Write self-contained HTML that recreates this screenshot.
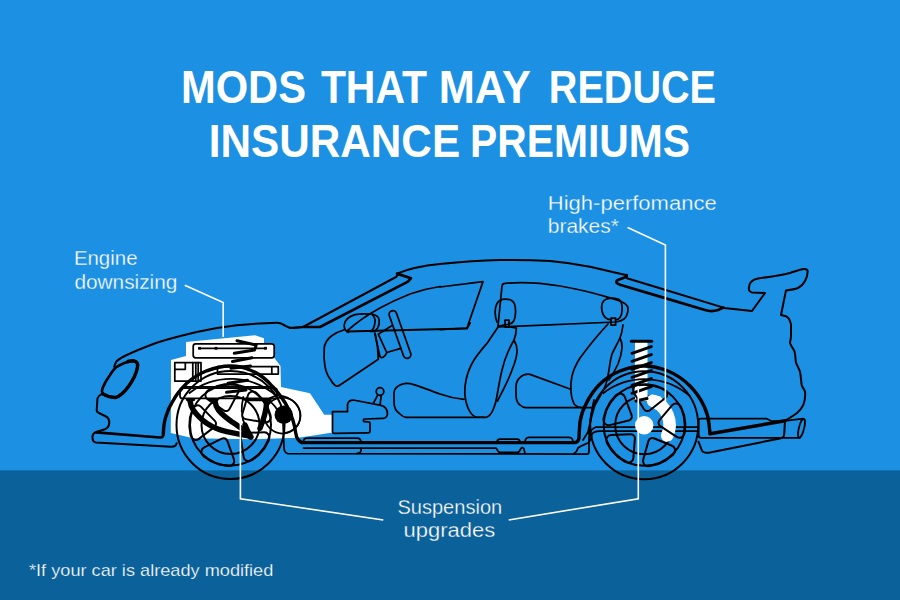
<!DOCTYPE html>
<html lang="en">
<head>
<meta charset="utf-8">
<title>Mods that may reduce insurance premiums</title>
<style>
html,body{margin:0;padding:0;width:900px;height:600px;overflow:hidden;background:#1c90e3;}
svg{display:block;position:absolute;left:0;top:0;}
text{font-family:"Liberation Sans",sans-serif;fill:#fff;}
.title{font-weight:bold;font-size:46.5px;}
.lbl{font-size:20px;stroke:#1c90e3;stroke-width:.28px;}
.dk{stroke:#0b6199;}
.note{font-size:17px;stroke:#0b6199;stroke-width:.25px;}
.call{fill:none;stroke:#fff;stroke-width:1.6;stroke-linejoin:miter;}
.k{fill:none;stroke:#000;stroke-width:2;stroke-linecap:round;stroke-linejoin:round;}
.t{stroke-width:1.75;}
.m{stroke-width:2.7;}
.h{stroke-width:3.4;}
.s{stroke-width:3;}
.x{stroke-width:5.4;}
</style>
</head>
<body>
<svg width="900" height="600" viewBox="0 0 900 600">
<rect x="0" y="0" width="900" height="600" fill="#1c90e3"/>
<rect x="0" y="470.4" width="900" height="130" fill="#0b6199"/>

<!-- TITLE -->
<text class="title" x="180.9" y="102.7" textLength="125.1" lengthAdjust="spacingAndGlyphs">MODS</text>
<text class="title" x="320.9" y="102.7" textLength="106.0" lengthAdjust="spacingAndGlyphs">THAT</text>
<text class="title" x="438.7" y="102.7" textLength="92.3" lengthAdjust="spacingAndGlyphs">MAY</text>
<text class="title" x="548.8" y="102.7" textLength="167.2" lengthAdjust="spacingAndGlyphs">REDUCE</text>
<text class="title" x="208.8" y="156.7" textLength="251.3" lengthAdjust="spacingAndGlyphs">INSURANCE</text>
<text class="title" x="470.0" y="156.7" textLength="220.1" lengthAdjust="spacingAndGlyphs">PREMIUMS</text>

<!-- LABELS -->
<text class="lbl" x="73.9" y="265" textLength="63.6" lengthAdjust="spacingAndGlyphs">Engine</text>
<text class="lbl" x="74.4" y="288.6" textLength="103.0" lengthAdjust="spacingAndGlyphs">downsizing</text>
<text class="lbl" x="547.8" y="209.8" textLength="168.9" lengthAdjust="spacingAndGlyphs">High-perfomance</text>
<text class="lbl" x="547.8" y="232.6" textLength="71.0" lengthAdjust="spacingAndGlyphs">brakes*</text>
<text class="lbl dk" x="397.4" y="513.6" textLength="104.8" lengthAdjust="spacingAndGlyphs">Suspension</text>
<text class="lbl dk" x="403.6" y="537" textLength="91.6" lengthAdjust="spacingAndGlyphs">upgrades</text>
<text class="note" x="29.0" y="576" textLength="244.3" lengthAdjust="spacingAndGlyphs">*If your car is already modified</text>

<!-- CAR-START -->
<path fill="#fff" d="M186,342 L255,335.3 L264,338.3 L264,343.8 L274.2,343.8 L274.2,357.8 L280.5,366 L281,387 L310,393.3 L324.2,414.7 L332.5,414.7 L332.5,432.5 L315,435.3 L298,437.8 L251.7,439.2 L193.3,438.3 L170.8,433 L171,360 L186,356 Z"/>
<path class="k t" d="M283,422 L284,448 C284.3,451.5 285.5,453.3 288,453.6 L587,454 C588.5,454 589,453 589,451.5 L589,437 C589.3,432 592,428.5 596,427 L698,427"/>
<path class="k t" d="M574,453.6 C576.5,452 577.5,450 578,448 C581,445.5 585,444.5 588,443 C590.5,441 591.5,438 592,434 C593.5,431.5 596,431 600,431 L698,431"/>
<circle class="k" cx="644.2" cy="425.3" r="29"/>
<rect x="635" y="342" width="12.5" height="59" fill="#fff"/>
<path d="M653.1,400.9 A25.5,25.5 0 0 1 667.2,435.5" fill="none" stroke="#fff" stroke-width="12.5" stroke-linecap="round"/>
<path d="M647,399 L652,396 L660,398 L656,408 Z" fill="#fff" stroke="#fff" stroke-width="3" stroke-linejoin="round"/>
<circle cx="644.2" cy="425.3" r="9.2" fill="#fff"/>
<circle class="k" cx="230.5" cy="425" r="54"/>
<circle class="k" cx="230.5" cy="425" r="40.5"/>
<circle class="k" cx="230.5" cy="425" r="29"/>
<path class="k" d="M245.54,419.13 A4.00,4.00 0 0 1 242.37,414.06 L247.92,395.18 A5.00,5.00 0 0 1 255.51,392.44 L256.98,393.44 L262.97,399.63 L267.53,406.94 L270.48,415.03 L270.72,416.79 A5.00,5.00 0 0 1 264.94,422.42 Z"/>
<path class="k" d="M240.73,437.49 A4.00,4.00 0 0 1 244.57,432.91 L264.24,432.35 A5.00,5.00 0 0 1 269.19,438.72 L268.70,440.43 L264.66,448.04 L259.12,454.64 L252.33,459.94 L250.73,460.72 A5.00,5.00 0 0 1 243.60,456.95 Z"/>
<path class="k" d="M221.78,438.59 A4.00,4.00 0 0 1 227.33,440.83 L233.94,459.36 A5.00,5.00 0 0 1 229.40,466.04 L227.63,466.10 L219.14,464.60 L211.16,461.38 L204.02,456.56 L202.78,455.28 A5.00,5.00 0 0 1 204.16,447.33 Z"/>
<path class="k" d="M214.88,420.91 A4.00,4.00 0 0 1 214.47,426.88 L198.88,438.89 A5.00,5.00 0 0 1 191.13,436.64 L190.52,434.97 L189.33,426.44 L189.93,417.85 L192.30,409.57 L193.13,408.00 A5.00,5.00 0 0 1 201.12,406.85 Z"/>
<path class="k" d="M229.56,408.88 A4.00,4.00 0 0 1 223.76,410.33 L207.52,399.22 A5.00,5.00 0 0 1 207.27,391.16 L208.67,390.06 L216.41,386.28 L224.77,384.20 L233.37,383.90 L235.13,384.21 A5.00,5.00 0 0 1 238.69,391.45 Z"/>
<path class="k t" d="M189.5,393 A68.8,68.8 0 0 1 276.5,396"/>
<circle class="k" cx="644.2" cy="425.3" r="54"/>
<circle class="k" cx="644.2" cy="425.3" r="40.5"/>
<path class="k" d="M660.33,426.05 A4.00,4.00 0 0 1 659.49,420.13 L672.24,405.14 A5.00,5.00 0 0 1 680.29,405.73 L681.23,407.24 L684.18,415.33 L685.37,423.86 L684.77,432.45 L684.28,434.16 A5.00,5.00 0 0 1 676.71,436.95 Z"/>
<path class="k" d="M648.47,440.87 A4.00,4.00 0 0 1 653.84,438.25 L672.04,445.74 A5.00,5.00 0 0 1 673.96,453.57 L672.82,454.94 L666.03,460.24 L658.29,464.02 L649.93,466.10 L648.16,466.16 A5.00,5.00 0 0 1 643.17,459.82 Z"/>
<path class="k" d="M630.71,434.17 A4.00,4.00 0 0 1 634.87,438.47 L633.36,458.09 A5.00,5.00 0 0 1 626.51,462.34 L624.86,461.68 L617.72,456.86 L611.73,450.67 L607.17,443.36 L606.56,441.69 A5.00,5.00 0 0 1 611.05,434.98 Z"/>
<path class="k" d="M631.60,415.21 A4.00,4.00 0 0 1 628.79,420.49 L609.67,425.13 A5.00,5.00 0 0 1 603.50,419.92 L603.63,418.15 L606.00,409.87 L610.04,402.26 L615.58,395.66 L616.98,394.57 A5.00,5.00 0 0 1 624.75,396.77 Z"/>
<path class="k" d="M649.90,410.20 A4.00,4.00 0 0 1 644.01,409.16 L633.69,392.40 A5.00,5.00 0 0 1 636.74,384.93 L638.47,384.50 L647.07,384.20 L655.56,385.70 L663.54,388.92 L665.02,389.92 A5.00,5.00 0 0 1 665.32,397.98 Z"/>
<path class="k t" d="M603.2,393.3 A68.8,68.8 0 0 1 690.2,396.3"/>
<path class="k s" d="M631.3,341.3 L651.7,341.3"/>
<path class="k s" d="M632,353.3 L651.3,346.6"/>
<path class="k s" d="M632,361.3 L651.3,354.6"/>
<path class="k s" d="M632,369.3 L651.3,362.6"/>
<path class="k s" d="M632,377.3 L651.3,370.6"/>
<path class="k s" d="M632,385.3 L651.3,378.6"/>
<path class="k s" d="M632,393.3 L651.3,386.6"/>
<path class="k s" d="M636,401 L647,398.5"/>
<path class="k" d="M303,327 L292.7,328 C288,328 286,326 283,324.5 C281,322.8 279,322.7 276.7,322.7 C262,323 250,324 236.7,325.3 C222,327 210,329 196.7,332 C182,335.5 170,338.5 156.7,342.7 C145,347 134,351.5 124.7,356 C119,359 116.5,361 115.8,362.5 L114.2,366.7"/>
<path class="k m" d="M133.3,360.8 C137,361 138.5,363.5 137.5,367.5 C136,375 132.5,381 128.3,386.7 C124,392.5 120,396 115.8,397.5 C110,397.5 106,396 102.5,393.7 C101.5,392 101.7,390.5 102.5,388.3 C104.5,383.5 107,379 110,375 C112,372 113.5,369.5 115.8,367.5 C121,364 127,361.5 133.3,360.8 Z"/>
<path class="k h" d="M128,361.5 C131,360.6 133,360.6 134.5,361 C137.5,362 138.2,364.5 137.3,368 C136,375 132.5,381 128.3,386.7 C124,392.5 120,396 115.8,397.5 C111,397.8 106,396 102.5,393.7"/>
<path class="k" d="M101.7,394.2 C99,395.5 98,396.5 97.5,398.3 L96.7,410 C96.7,412 97.5,412.5 99,413 L106,416.5 C108.5,417.8 109.5,420 109.2,423.3 C109,426 107.5,428 105,429.2 L96,432 C93.5,433 92.2,435.5 92.5,438.3 C92.8,440.8 93.5,442.2 96,442.5 L171,446.7 C174.5,446.8 176.2,446 176.7,443.3"/>
<path class="k m" d="M96,432.3 L160,437.5 C162.3,437.6 163.3,436.5 163.3,434.2"/>
<path class="k h" d="M163.3,434.2 C163.5,428 164,422 165.8,416.7 C167.5,411 169.5,406.5 172.5,401.7 C176,395 181,389 186.7,383.3 C192.5,378 199,374 206.7,370.8 C214,368 222,366 230,366 C238,366 245,367.5 250,370 C259,373.5 266,379 272,386 C279,393.5 284,400 288,408 C292,416 294.5,424 295.8,433.3 C296.3,437.5 298,441 302,442.6"/>
<path class="k h" d="M302,442.6 L574,442.6 C577,442.6 578.6,441 579,438 C579.3,432 579.5,427 580,422 C581,415 583,409.5 586,404 C589.5,396.5 594,390 600,384 C606,378 612.5,374 620,371 C628,367.8 636,366 644,366 C652,366 660,367.8 668,371 C676.5,374.5 684,380 690,386 C696,392 700.5,398.5 704,406 C707,412.5 708.5,418 709,424 L710,433.5"/>
<path class="k h" d="M710,433.8 L785,420.8"/>
<path class="k" d="M290,328 L303,327 L396,277 L399,273.5"/>
<path class="k m" d="M303,327 L320,327 L408,281.6 L411,278.2 L397,273.6"/>
<path class="k" d="M397,273.6 C410,268 425,265.5 440,264 C460,262 480,260.5 500,260 C517,259.7 534,260 550,261 C565,262.3 578,264.3 590,266.8 C602,269.5 614,272.3 626.7,275.2 M627,278.3 L660,288.3 L723.5,307.6"/>
<path class="k m" d="M626.7,275.2 L626.7,276.8 L617.8,280 C616,281 616,282.6 617.2,283.4 L620,284.7 L660,296.6 L705,310 C709,311.3 714,311.3 718,310 L723.5,307.6"/>
<path class="k" d="M724,308 L752,311 L765,293 L752,292.4 C749.5,292 748.6,290 749,288 C749,285 749.5,283.5 751,282 C753,279.8 755,278.8 758,278.4 C769,277 780,275.5 790,273 C795,271.5 800,269.5 804,269 C806.5,268.8 808,270 807.6,272 C807.5,275.5 806.5,278.5 805,281 C803.5,284 801,286.5 798,288 C794.5,289.5 790,290 786,290.4 L781,315 L786,316.3 C788.5,317 789.5,319 791,324 L791,336 C791,339 790,341 790,343 C791,346 793,348.5 794.2,350.5 C795.3,354 795.5,358 795.8,361.7 C797,366 799,368.5 800,371.7 C801,376 801,381 801.7,385 C802.5,388 804.5,389.5 805,391.7 C805.5,396 804.8,401 803.3,405 C801.5,408.5 799.5,411 796.7,413.3 C793,416 789,418.5 785,420.8 L784.2,434.2 C784,437 782.5,438 780,438.5 L710,452.5 C705,453.3 702.5,452.5 701.7,450 L698.5,441.7"/>
<path class="k t" d="M701,418.7 L766.7,418.7 L771.5,421 L785,420.8 L803,418.7 M698.7,421 C698.7,419.3 699.5,418.7 701,418.7 M698.7,421 L698.7,435.5 C698.7,437 699.5,437.8 701,437.8 L800,437.8"/>
<ellipse class="k t" cx="801.5" cy="428.2" rx="2.6" ry="9.6" transform="rotate(14 801.5 428.2)"/>
<path class="k t" d="M440,287 L483,281.6 L467,328 L440,329.6"/>
<path class="k" d="M347,331.5 L467,328.6 L470,323"/>
<path class="k t" d="M347,331 C357,322 368,314.5 380,308 C390,302.5 400,298 410,294 C420,290.5 430,288 440,286.5"/>
<path class="k t" d="M498,326 L502,286 C502.3,284 503.3,283.3 505,283.3 C524,281.5 542,283 560,286 C574,288.5 588,291.5 600,295 C608,297.3 616,299.5 622,302 C626.5,304 628.5,306.5 628,310 C627.6,314 626.5,317 624,319 C622,320.5 619,321.5 616,322 L498,327"/>
<path class="k t" d="M497,322 C494.5,316 494.5,308 497,303.5 C499,299.8 502,299 505.5,299 C510,299 513,300.5 514.5,304 C516,308 516,316 514,320.5 C513,322.5 511.5,323.6 509.5,324 L498.5,326"/>
<path class="k t" d="M505,320 L509,320 L509,327 L505,327 Z"/>
<path class="k t" d="M611.5,319.8 C606,319.5 603,316.5 602,311 C601,305 602.5,300.5 606.5,299 C610.5,297.8 616,298 619,299.5 C622,301.5 622.5,306 622,311.5 C621.5,316.5 619.5,319.5 615.6,320"/>
<path class="k t" d="M611,318 L615.6,318 L615.6,325 L611,325 Z"/>
<path class="k t" d="M498,327 C495,332 491,337 488,342 C483,348 478,353.5 474,360 C470,366.5 467.5,373 466,380 C465,385 464.6,391 465,396 C465.5,400.5 466.5,404.5 468,408 C470,412.5 472.5,416 476,417 L486,417.4 C489.5,416.5 491.5,413.5 493,410 C495,405.5 496.3,400.5 497,396 C498.5,387 500,378.5 502,370 C503.5,363.5 505.5,357.5 508,352 C510,347.5 512,343.5 514,340 C515.5,336.5 516.2,332.5 516.4,328 L509,327"/>
<path class="k t" d="M514,340 C516,343.5 517.3,347.5 517,352 C516.5,358 514.5,364 512,370 C509,379 503,390 497.5,401"/>
<path class="k t" d="M464,399.4 C455,398.5 447,396.5 440,394 C430,390.5 420,386 410,383.6 C406,383 402.5,383.5 400,385 C396,387 394,389.5 394,393 L394,402 C394,407 396,411.5 400,414 C402,416 404,417.2 406,417.4 L484,417.4"/>
<path class="k t" d="M608,324 C603,329.5 598.5,334.5 594,340 C589,346 584.5,352 580,358 C576.5,363.5 573.5,369.5 572,376 C570.8,381 570.5,387 571,392 C571.5,397 572.5,401 574.5,404.5 C577,407 580,407.6 584,407.6"/>
<path class="k t" d="M623,325 C622.5,329.5 621.5,334 620,338 C617.5,343.5 614.5,348.5 612,354 C610.5,359 609.8,364.5 609,370 C608.3,375 607.3,379.5 606,384 C604,390 599,398 595,405 C592,414 590,423 588,432 L583,440"/>
<path class="k t" d="M620,338 C621.5,341 622.3,344.5 622,348 C621.5,353.5 620,359 618,364 C615.5,369.5 612.5,375 609,380"/>
<path class="k t" d="M570,389 L530,374.4 C526,373.8 522.5,375 520,377.5 C517,380 516,383 516,387 L516,395 C516,400 517.3,403 520,405 C522,407 524,407.6 526,407.6 L592.5,407.6"/>
<path class="k t" d="M345,329.5 C340,331 335.5,333 331.7,335.8 C327,339.5 324.5,343.5 324.2,348.3 C323.8,354.5 324,361 325,366.7 C326,372 328,376.5 330.8,380 C332.5,383 334,385 335.8,385.8 C337.5,386.3 339,385.8 340,385 L378.3,359.2 L377.5,346.7 L375,333.3"/>
<path class="k t" d="M348.3,332.3 C345.5,331 344,328.5 344.2,325 C344.8,320 349,316.5 355,314.7 C360.5,313.5 366,313.6 371.7,314.2 C376,315 378.8,317 379.2,320 C379.6,323.5 379,326 377.5,328.3 C376.3,330 375,331.2 373.3,331.7"/>
<path class="k t" d="M371.7,314.2 C374.3,316.5 375.3,319 375,321.7 C374.8,325.5 373.5,329 371,331.6"/>
<rect class="k t" x="-3.8" y="-25" width="7.6" height="50" rx="3.8" transform="translate(400,334.5) rotate(-19.5)"/>
<path class="k t" d="M378.3,334.2 L391.7,325.8 M378.3,334.2 L386.7,352.5 L400.8,348.3 M375,333.3 C376.5,341 378,349 380,356.5 C381.5,358.8 384.5,357.5 386.7,353"/>
<path class="k t" d="M332.5,411.7 L347.5,411.7 L347.5,404.5 C348,401.5 350,400 353.3,400 L381,405.3 C385.5,406.5 387.5,410 387.5,414.2 C387,417 385.5,418.3 383.3,418.3 L364.5,419 C363,419 363,421.7 364.5,421.7 L368.5,421.9 C369.5,421.9 370,422.5 370,423.5 L370,431 C370,432.3 369.3,432.8 368,432.8 L334,433.3 C333,433.3 332.5,432.8 332.5,431.8 Z"/>
<circle class="k t" cx="380" cy="391.5" r="3.8"/>
<path class="k t" d="M377.8,394.8 L373.3,403.3 M381.3,395.2 L380,405"/>
<circle cx="283.7" cy="414.7" r="9.2" fill="#000"/>
<circle class="k t" cx="282.5" cy="415.5" r="18"/>
<path class="k t" d="M361,448 L496,448 L498,451 C498.5,452.4 499,452.4 500,452.4 L517,452.4 C518.5,452.4 519,452 519.5,451 L521,448.5 C522,447 523.5,447.5 524,449 L525,453.6"/>
<path class="k t" d="M303.5,442.6 C303,439.5 305,438 307,438 L357,438 C359.5,438 361,439.5 361,442.6"/>
<path class="k t" d="M303.5,448 L361,448 L361,450 C361,452 359.5,453.4 357,453.4"/>
<path class="k t" d="M497,442.6 C497,440 498.5,439 500,439 L517,439 C519,439 520,440 520,442.6 M525,442.6 C525,439 526.5,437.3 529,437.3 L569,437.3 C571.5,437.3 573,439 573,442.6"/>
<path class="k t" d="M594,400 C591.5,411 590,422 589,434"/>
<rect class="k t" x="193.2" y="343.8" width="81" height="14" rx="2.5"/>
<path class="k t" d="M199.5,348.3 L265.5,348.3"/>
<rect x="198.1" y="346.90000000000003" width="2.8" height="2.8" fill="#000"/>
<rect x="214.6" y="346.90000000000003" width="2.8" height="2.8" fill="#000"/>
<rect x="264.1" y="346.90000000000003" width="2.8" height="2.8" fill="#000"/>
<path class="k t" d="M174.8,362.7 L201,362.7 L201,381 L174.8,381 Z M174.8,369.3 L185.3,369.3 L185.3,362.7"/>
<path class="k t" d="M192.8,362.7 L192.8,381 M195.8,362.7 L195.8,381 M198.2,362.7 L198.2,381"/>
<path class="k t" d="M217.5,366.5 L278.3,366.5 L278.3,374 L217.5,374 Z M271.8,366.5 L271.8,374"/>
<rect class="k t" x="180" y="388.2" width="97" height="10.2" rx="2.5"/>
<path class="k t" d="M183,386.8 L274,386.8"/>
<path class="k h" d="M187.5,399.6 L193.5,399.6 M210.5,399.6 L217,399.6 M247,399.6 L270,399.6"/>
<path class="k s" d="M237,340.8 L256.2,345 L254.5,350 L234.3,353.3 M252,357.8 L232.5,361.5 M250.5,366 L231,368.3 M247.5,380.3 L228,383.3 M246,390 L226.5,392.3"/>
<path class="k x" d="M190,400.8 C190.5,404.5 191.5,407.5 193.3,410 C197,415.5 201.5,419.5 206.7,423.3 C213,427.5 219.5,430 226.7,431.7 C234,433.3 241,434.6 248.3,435.8"/>
<path class="k x" d="M215,400.8 C215.5,404.5 216.5,407.5 218.3,410 C222,414.5 226.5,418 231.7,421.7 C236,424.5 240,427 243.3,430 C246,432 248,434.5 250,436.7"/>
<path class="k t" d="M243.3,397 C242,402.5 241.5,408 241.7,413.3 C242.2,417.5 243.3,421.5 245,425"/>
<path class="k x" d="M245,425 C246.5,429 248.5,433 251,437"/>
<path class="k x" d="M266.7,400.8 C266.5,405 266,409.5 265,413.3 C263.8,418.5 262,423.5 260,428.3"/>
<path class="k t" d="M268,400 C274,404 278,410 281,416"/>
<path class="k t" d="M270,398 C280,392 296,398 300,412 C302,424 294,432 284,433"/>
<!-- CAR-END -->

<!-- CALLOUTS -->
<polyline class="call" points="184.8,285.2 223.2,302.5 223.2,337"/>
<polyline class="call" points="240.4,412 240.4,498.7 383.3,520"/>
<polyline class="call" points="638.3,386 638.3,498.7 508.7,520"/>
<polyline class="call" points="627.6,227.6 665.4,245 665.4,404"/>
</svg>
</body>
</html>
